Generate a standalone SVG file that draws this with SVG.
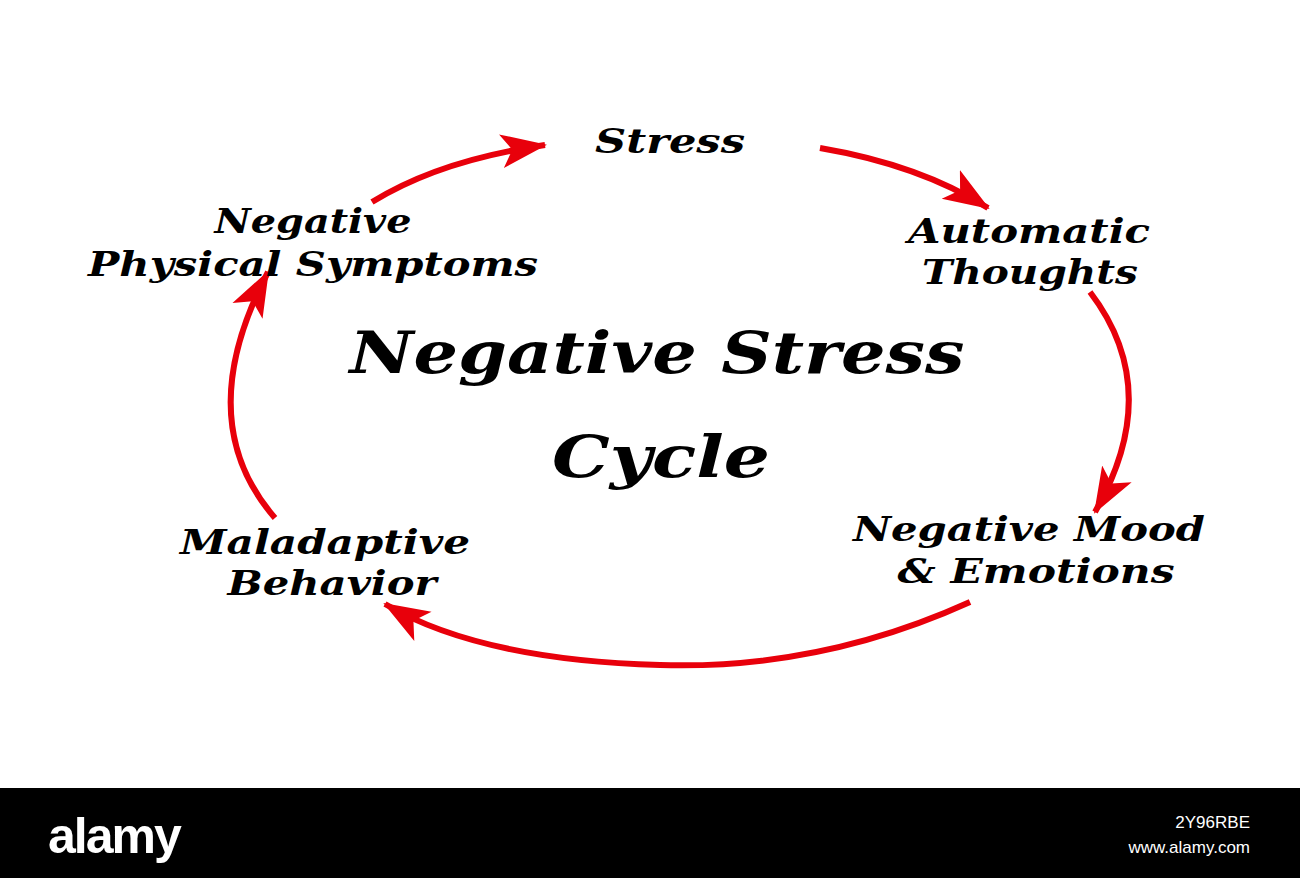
<svg xmlns="http://www.w3.org/2000/svg" width="1300" height="878" viewBox="0 0 1300 878">
<style>
.l{font-family:"DejaVu Serif","Liberation Serif",serif;font-weight:bold;font-style:italic;fill:#000;text-anchor:middle}
.n{font-size:33px}
.t{font-size:58px}
.c{fill:none;stroke:#e8000b;stroke-width:6;marker-end:url(#ah)}
</style>
<defs>
<marker id="ah" markerUnits="userSpaceOnUse" markerWidth="56" markerHeight="44" refX="44" refY="17" orient="auto" viewBox="0 0 56 34">
<path d="M0,0 L46,17 L0,34 L11,17 Z" fill="#e8000b"/>
</marker>
</defs>
<rect width="1300" height="878" fill="#fff"/>
<g id="connectors">
<path class="c" d="M372,202 Q440,160 545,145"/>
<path class="c" d="M820,148 Q920,165 988,208"/>
<path class="c" d="M1090,292 Q1165,390 1095,512"/>
<path class="c" d="M970,602 Q820,670 660,665 Q480,660 385,604"/>
<path class="c" d="M275,518 Q190,420 268,272"/>
</g>
<g id="title"><text class="l t" x="657" y="373" textLength="615" lengthAdjust="spacingAndGlyphs">Negative Stress</text><text class="l t" x="661" y="477" textLength="218" lengthAdjust="spacingAndGlyphs">Cycle</text></g>
<g id="stress"><text class="l n" x="670" y="153" textLength="150" lengthAdjust="spacingAndGlyphs">Stress</text></g>
<g id="auto"><text class="l n" x="1029" y="243" textLength="242" lengthAdjust="spacingAndGlyphs">Automatic</text><text class="l n" x="1030" y="284" textLength="216" lengthAdjust="spacingAndGlyphs">Thoughts</text></g>
<g id="mood"><text class="l n" x="1029" y="541" textLength="352" lengthAdjust="spacingAndGlyphs">Negative Mood</text><text class="l n" x="1036" y="583" textLength="277" lengthAdjust="spacingAndGlyphs">&amp; Emotions</text></g>
<g id="behav"><text class="l n" x="325" y="554" textLength="290" lengthAdjust="spacingAndGlyphs">Maladaptive</text><text class="l n" x="332" y="595" textLength="209" lengthAdjust="spacingAndGlyphs">Behavior</text></g>
<g id="phys"><text class="l n" x="313" y="233" textLength="197" lengthAdjust="spacingAndGlyphs">Negative</text><text class="l n" x="313" y="276" textLength="450" lengthAdjust="spacingAndGlyphs">Physical Symptoms</text></g>
<g id="bar">
<rect x="0" y="788" width="1300" height="90" fill="#000"/>
<text x="48" y="853" font-family="Liberation Sans,sans-serif" font-weight="bold" font-size="50" fill="#fff" letter-spacing="-2">alamy</text>
<text x="1250" y="828" font-family="Liberation Sans,sans-serif" font-size="17" fill="#fff" text-anchor="end">2Y96RBE</text>
<text x="1250" y="853" font-family="Liberation Sans,sans-serif" font-size="17" fill="#fff" text-anchor="end">www.alamy.com</text>
</g>
</svg>
